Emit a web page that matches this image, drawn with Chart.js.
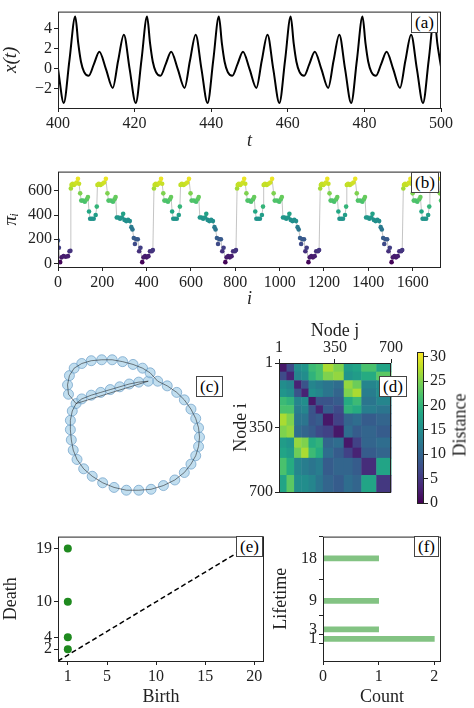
<!DOCTYPE html>
<html><head><meta charset="utf-8">
<script src="https://cdn.jsdelivr.net/npm/chart.js@4.4.0/dist/chart.umd.min.js"></script>
<style>
body{margin:0;background:#fff;width:474px;height:708px;position:relative;overflow:hidden;font-family:"Liberation Serif",serif}
.c{position:absolute}
.lb{position:absolute;border:1px solid #444;background:#fff;font:17px "Liberation Serif",serif;padding:0 3px;line-height:19px}
.rt{position:absolute;font:18px "Liberation Serif",serif;color:#222;transform:rotate(-90deg);transform-origin:center;white-space:nowrap}
</style></head><body>
<div class="c" style="left:0;top:0"><canvas id="ca" width="474" height="152"></canvas></div>
<div class="c" style="left:0;top:160px"><canvas id="cb" width="474" height="150"></canvas></div>
<div class="c" style="left:0;top:340px"><canvas id="cc" width="230" height="170"></canvas></div>
<div class="c" style="left:230px;top:320px"><canvas id="cd" width="175" height="200"></canvas></div>
<div class="c" style="left:400px;top:340px"><canvas id="ce" width="74" height="175"></canvas></div>
<div class="c" style="left:0;top:525px"><canvas id="cf" width="270" height="183"></canvas></div>
<div class="c" style="left:270px;top:525px"><canvas id="cg" width="204" height="183"></canvas></div>
<div class="lb" style="left:411px;top:12px">(a)</div>
<div class="lb" style="left:411px;top:172px">(b)</div>
<div class="lb" style="left:196px;top:376px">(c)</div>
<div class="lb" style="left:379px;top:376px">(d)</div>
<div class="lb" style="left:236px;top:536px">(e)</div>
<div class="lb" style="left:414px;top:536px">(f)</div>
<div class="rt" style="left:430px;top:416px;width:60px;text-align:center">Distance</div>
<script>
// ---- data ----
const tA=[400,401.5,403,404.5,405.3,406.0,406.8,408.0,409.4,410.8,412.5,414.3,415.7,417.2,418.7,420.3,421.8,
423.25,424.05,424.75,425.55,426.75,428.15,429.55,431.25,433.05,434.45,435.95,437.45,439.05,440.55,
442,442.8,443.5,444.3,445.5,446.9,448.3,450,451.8,453.2,454.7,456.2,457.8,459.3,
460.75,461.55,462.25,463.05,464.25,465.65,467.05,468.75,470.55,471.95,473.45,474.95,476.55,478.05,
479.5,480.3,481,481.8,483,484.4,485.8,487.5,489.3,490.7,492.2,493.7,495.3,496.8,498.25,499.05,500];
const xA=[0,-3.4,0.9,5.2,2.5,0.7,-0.3,-0.7,0.5,1.7,0,-1.9,0.8,3.4,0,-3.4,0.9,
5.2,2.5,0.7,-0.3,-0.7,0.5,1.7,0,-1.9,0.8,3.4,0,-3.4,0.9,
5.2,2.5,0.7,-0.3,-0.7,0.5,1.7,0,-1.9,0.8,3.4,0,-3.4,0.9,
5.2,2.5,0.7,-0.3,-0.7,0.5,1.7,0,-1.9,0.8,3.4,0,-3.4,0.9,
5.2,2.5,0.7,-0.3,-0.7,0.5,1.7,0,-1.9,0.8,3.4,0,-3.4,0.9,5.2,2.5,0.2];
const ticksA=[-2,0,2,4];
const headI=[0,4,10,16,25,35,45,52,56];
const headV=[190,130,10,50,60,55,60,100,105];
const cycleT=[0,3,8,14,20,26,32,37,42,47,55,63,72,77,82,87,95,103,112,117,120,126,134,142,150,158,165,170,180,190,197,202,207,214,222,230,236,242,250,258,266,273,278,284,289,295,302,308,314,322,328,335,342,350,357,365,370];
const cycleV=[620,650,660,650,660,670,700,660,580,520,520,510,530,550,430,370,370,370,400,470,650,660,650,660,670,700,580,520,520,510,530,550,380,380,370,380,410,360,350,360,350,300,280,210,160,200,200,100,130,10,50,60,50,60,100,100,110];
const cycleStarts=[58,433,808,1183,1558];
const ticksB=[0,200,400,600];
const nodeX=[160,170,180,188,195,200,203,204,203,200,195,188,178,166,153,140,127,114,102,91,82,75,71,69,68,68,70,74,80,90,100,110,120,130,140,150,66,65,67,72,80,90,101,112,123,134,144,152];
const nodeY=[378,383,390,398,408,418,428,438,448,458,467,476,484,490,494,495,495,492,487,480,472,462,452,441,430,420,410,402,397,393,390,387,384,381,379,378,392,382,372,364,359,356,355,355,357,360,364,369];
const segB=[1,48,95,140,185,230,275,340,405,460,515,608,700];
const distM=[
[2,7,15,16,21,22,27,25,17,18,22,18],
[7,3,14,15,20,22,25,26,16,17,19,23],
[15,14,3,8,14,13,12,11,26,24,14,15],
[16,15,8,3,15,14,12,10,25,27,13,15],
[21,20,14,15,2,8,8,9,19,21,12,14],
[22,22,13,14,8,3,9,7,20,19,13,12],
[27,25,12,12,8,9,2,6,10,11,9,10],
[25,26,11,10,9,7,6,2,11,9,10,9],
[17,16,26,25,19,20,10,11,2,6,10,11],
[18,17,24,27,21,19,11,9,6,3,9,10],
[22,19,14,13,12,13,9,10,10,9,4,18],
[18,23,15,15,14,12,10,9,11,10,18,5]];
const birth=[1,1,1,1];
const deathV=[2,4,10,19];
const lifeT=[1,3,9,18], lifeC=[2,1,1,1];

// ---- helpers ----
const F='"Liberation Serif", serif';
const stops=['#440154','#482475','#414487','#355f8d','#2a788e','#21918c','#22a884','#44bf70','#7ad151','#bddf26','#fde725'];
function hx(h){return [1,3,5].map(i=>parseInt(h.substr(i,2),16));}
function viridis(f){f=Math.max(0,Math.min(1,f));const p=f*10,i=Math.min(9,Math.floor(p)),r=p-i;const a=hx(stops[i]),b=hx(stops[i+1]);return 'rgb('+a.map((v,k)=>Math.round(v+(b[k]-v)*r)).join(',')+')';}
const frame={id:'frame',afterDraw(c){if(c.canvas.id==='cc')return;const a=c.chartArea,x=c.ctx;x.save();x.strokeStyle='#222';x.lineWidth=1;x.strokeRect(a.left+0.5,a.top+0.5,a.right-a.left-1,a.bottom-a.top);x.restore();}};
function ax(o){return Object.assign({grid:{display:true,drawOnChartArea:false,color:'#222',tickLength:4,tickColor:'#222'},border:{display:false},ticks:{color:'#222',font:{family:F,size:16},padding:2,maxRotation:0,autoSkip:false,callback:v=>v<0?'−'+(-v):String(v)}},o);}
function fixT(vals){return s=>{s.ticks=vals.map(v=>({value:v}));};}
function title(t,sz,it){return {display:true,text:t,color:'#222',font:{family:F,size:sz||18,style:it?'italic':'normal'},padding:0};}
const base={responsive:false,animation:false,plugins:{legend:{display:false},tooltip:{enabled:false}}};
Chart.register(frame);

// (a)
new Chart(ca,{type:'line',data:{datasets:[{data:tA.map((t,i)=>({x:t,y:xA[i]})),borderColor:'#000',borderWidth:2,pointRadius:0,cubicInterpolationMode:'monotone'}]},
options:{...base,layout:{padding:{top:8,right:33}},scales:{
x:ax({type:'linear',min:400,max:500,afterBuildTicks:fixT([400,420,440,460,480,500]),title:title('t',18,true),afterFit:s=>{s.height=44}}),
y:ax({min:-3.9,max:5.7,afterBuildTicks:fixT(ticksA),title:title('x(t)',19,true),afterFit:s=>{s.width=58}})}}});

// (b)
const bI=[...headI],bV=[...headV];
cycleStarts.forEach(s=>cycleT.forEach((t,k)=>{if(s+t<=1728){bI.push(s+t);bV.push(cycleV[k]);}}));
new Chart(cb,{type:'line',data:{datasets:[{data:bI.map((t,i)=>({x:t,y:bV[i]})),borderColor:'rgba(90,90,90,0.6)',borderWidth:0.6,pointRadius:2.3,pointBorderWidth:0,pointBackgroundColor:bV.map(v=>viridis(v/720))}]},
options:{...base,layout:{padding:{top:7,right:33}},scales:{
x:ax({type:'linear',min:0,max:1728,afterBuildTicks:fixT([0,200,400,600,800,1000,1200,1400,1600]),title:title('i',18,true),afterFit:s=>{s.height=43}}),
y:ax({min:-30,max:760,afterBuildTicks:fixT(ticksB),title:title('πᵢ',19,true),afterFit:s=>{s.width=58}})}}});

// (c)
const order=[...Array(36).keys(),...[27,36,37,38,39,40,41,42,43,44,45,46,47,0]];
new Chart(cc,{type:'scatter',data:{datasets:[
{data:order.map(i=>({x:nodeX[i],y:nodeY[i]})),showLine:true,borderColor:'rgba(30,30,30,0.7)',borderWidth:0.8,pointRadius:0},
{data:nodeX.map((x,i)=>({x,y:nodeY[i]})),pointRadius:5,backgroundColor:'rgba(160,205,230,0.65)',borderColor:'rgba(110,160,200,0.9)',borderWidth:0.8}]},
options:{...base,layout:{padding:0},scales:{x:{display:false,min:0,max:230},y:{display:false,min:340,max:510,reverse:true}}}});

// (d)
const heat={id:'heat',beforeDatasetsDraw(c){const X=c.scales.x,Y=c.scales.y,x=c.ctx;
for(let i=0;i<12;i++)for(let j=0;j<12;j++){const x0=X.getPixelForValue(segB[j]),x1=X.getPixelForValue(segB[j+1]),y0=Y.getPixelForValue(segB[i]),y1=Y.getPixelForValue(segB[i+1]);
x.fillStyle=viridis(distM[i][j]/31);x.fillRect(Math.min(x0,x1),Math.min(y0,y1),Math.abs(x1-x0)+0.5,Math.abs(y1-y0)+0.5);}}};
new Chart(cd,{type:'scatter',data:{datasets:[{data:[]}]},plugins:[heat],
options:{...base,layout:{padding:{right:0,bottom:28}},scales:{
x:ax({type:'linear',position:'top',min:1,max:700,afterBuildTicks:fixT([1,350,700]),title:title('Node j',18),afterFit:s=>{s.height=43}}),
y:ax({min:1,max:700,reverse:true,afterBuildTicks:fixT([1,350,700]),title:title('Node i',18),afterFit:s=>{s.width=49}})}}});

// colorbar
const cbar={id:'cbar',beforeDatasetsDraw(c){const a=c.chartArea,x=c.ctx;const g=x.createLinearGradient(0,a.bottom,0,a.top);stops.forEach((s,i)=>g.addColorStop(i/10,s));x.fillStyle=g;x.fillRect(a.left,a.top,a.right-a.left,a.bottom-a.top);}};
new Chart(ce,{type:'scatter',data:{datasets:[{data:[]}]},plugins:[cbar],
options:{...base,layout:{padding:{left:17,top:12,bottom:12}},scales:{
x:{display:false,min:0,max:1},
y:ax({position:'right',min:0,max:31,afterBuildTicks:fixT([0,5,10,15,20,25,30]),afterFit:s=>{s.width=50}})}}});

// (e)
new Chart(cf,{type:'scatter',data:{datasets:[
{data:[{x:0,y:0},{x:21,y:21}],showLine:true,borderColor:'#000',borderWidth:1.5,borderDash:[5,3],pointRadius:0},
{data:birth.map((b,i)=>({x:b,y:deathV[i]})),pointRadius:4,backgroundColor:'#1f8a1f',borderWidth:0}]},
options:{...base,layout:{padding:{top:10,right:6}},scales:{
x:ax({type:'linear',min:0,max:21,afterBuildTicks:fixT([1,5,10,15,20]),title:title('Birth',18),afterFit:s=>{s.height=47}}),
y:ax({min:0,max:21,afterBuildTicks:fixT([2,4,10,19]),title:title('Death',18),afterFit:s=>{s.width=58}})}}});

// (f)
new Chart(cg,{type:'bar',data:{datasets:[{data:lifeT.map((t,i)=>({x:lifeC[i],y:t})),backgroundColor:'rgba(90,175,90,0.75)',barThickness:5}]},
options:{...base,indexAxis:'y',layout:{padding:{top:10,right:33}},scales:{
x:ax({type:'linear',min:0,max:2.12,afterBuildTicks:fixT([0,1,2]),title:title('Count',18),afterFit:s=>{s.height=47}}),
y:ax({type:'linear',min:-0.4,max:19.3,afterBuildTicks:fixT(lifeT),title:title('Lifetime',18),afterFit:s=>{s.width=53}})}}});
</script></body></html>
